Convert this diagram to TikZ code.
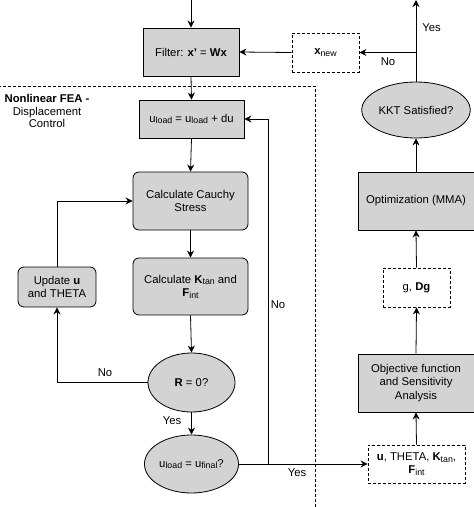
\documentclass[tikz,border=0pt]{standalone}
\usepackage{fontspec}
\setmainfont{Liberation Sans}
\usetikzlibrary{arrows.meta,shapes.geometric}
\definecolor{boxgray}{HTML}{D3D3D3}
\newcommand{\mysub}[1]{\raisebox{-0.3ex}{\fontsize{8.8}{9}\selectfont #1}}
\begin{document}
\begin{tikzpicture}[x=1pt,y=-1pt,
  font=\fontsize{11.3}{13.3}\selectfont,
  line width=0.8pt,
  arr/.style={-{Stealth[length=7pt,width=7pt]}},
  nd/.style={draw, align=center, inner sep=1pt, line width=0.8pt},
  gbox/.style={nd, fill=boxgray},
  rbox/.style={nd, fill=boxgray, rounded corners=6pt},
  dbox/.style={nd, fill=white, dash pattern=on 3pt off 2pt},
  oval/.style={nd, ellipse, fill=boxgray},
  lbl/.style={inner sep=0pt}
]
\useasboundingbox (0,0) rectangle (474,507);

% FEA region boundary
\draw[dash pattern=on 3pt off 2pt, line width=0.8pt] (-2,86) -- (315,86) -- (315,510);
\node[lbl, align=center, font=\fontsize{11.3}{12.3}\selectfont] (fealbl) at (47,111) {\textbf{Nonlinear FEA -}\\Displacement\\Control};

% nodes
\node[gbox, minimum width=96pt, minimum height=48pt] (filter) at (191,52) {Filter: \textbf{x'} = \textbf{Wx}};
\node[dbox, minimum width=67pt, minimum height=39pt] (xnew) at (325.5,52.5) {\textbf{x}\mysub{new}};
\node[oval, minimum width=87pt, minimum height=56pt] (kkt) at (416,110) {KKT Satisfied?};
\node[gbox, minimum width=105pt, minimum height=38pt] (uload) at (191.5,119) {u\mysub{load} = u\mysub{load} + du};
\node[rbox, minimum width=115pt, minimum height=58pt] (cauchy) at (190.5,201) {Calculate Cauchy\\Stress};
\node[rbox, minimum width=115pt, minimum height=57pt] (ktan) at (190.5,286.5) {Calculate \textbf{K}\mysub{tan} and\\\textbf{F}\mysub{int}};
\node[rbox, minimum width=78pt, minimum height=40pt] (update) at (57,287) {Update \textbf{u}\\and THETA};
\node[oval, minimum width=87pt, minimum height=59pt] (rzero) at (191.5,382.5) {\textbf{R} = 0?};
\node[oval, minimum width=87pt, minimum height=58pt] (ufinal) at (191.5,464) {u\mysub{load} = u\mysub{final}?};
\node[dbox, minimum width=97pt, minimum height=38pt] (uth) at (416.5,464) {\textbf{u}, THETA, \textbf{K}\mysub{tan},\\\textbf{F}\mysub{int}};
\node[gbox, minimum width=116pt, minimum height=58pt] (obj) at (416,383) {Objective function\\and Sensitivity\\Analysis};
\node[dbox, minimum width=67pt, minimum height=39pt] (gdg) at (416.5,287.5) {g, \textbf{Dg}};
\node[gbox, minimum width=116pt, minimum height=58pt] (opt) at (416,201) {Optimization (MMA)};

% coordinates
\coordinate (topin) at (191,0);
\coordinate (topout) at (416,0);
\coordinate (branch) at (416,52.5);
\coordinate (junc) at (268,464);

% connectors
\draw[arr] (topin) -- (filter.north);
\draw[arr] (filter.south) -- (uload.north);
\draw[arr] (uload.south) -- (cauchy.north);
\draw[arr] (cauchy.south) -- (ktan.north);
\draw[arr] (ktan.south) -- (rzero.north);
\draw[arr] (rzero.south) -- (ufinal.north);
\node[lbl] (yes1) at (172,421) {Yes};
\draw[arr] (rzero.west) -| (update.south);
\node[lbl] (no1) at (105,373) {No};
\draw[arr] (update.north) |- (cauchy.west);
\draw[arr] (ufinal.east) -- (uth.west);
\node[lbl] (yes2) at (297,473) {Yes};
\draw[arr] (junc) |- (uload.east);
\node[lbl] (no2) at (278,305) {No};
\draw[arr] (uth.north) -- (obj.south);
\draw[arr] (obj.north) -- (gdg.south);
\draw[arr] (gdg.north) -- (opt.south);
\draw[arr] (opt.north) -- (kkt.south);
\draw[arr] (kkt.north) -- (topout);
\node[lbl] (yes3) at (431.5,28) {Yes};
\draw[arr] (branch) -- (xnew.east);
\node[lbl] (no3) at (388,62) {No};
\draw[arr] (xnew.west) -- (filter.east);
\end{tikzpicture}
\end{document}
